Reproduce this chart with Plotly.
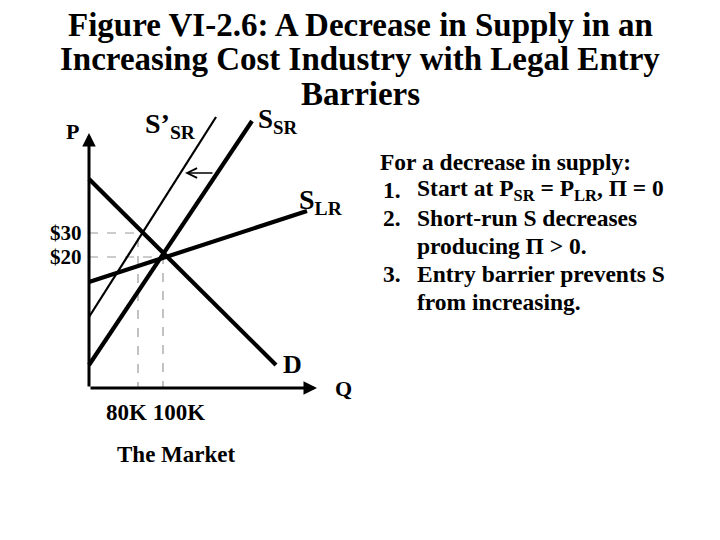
import plotly.graph_objects as go

# curve end points, chart units (origin = where the axes meet)
demand_q = [0, 187]
demand_p = [209, 23]
supply_sr_q = [0, 163]
supply_sr_p = [23, 267]
supply_sr_new_q = [0, 127]
supply_sr_new_p = [71, 271]
supply_lr_q = [0, 218]
supply_lr_p = [106, 177]

# equilibrium guides
q_marks = [49, 74]
p_marks = [155, 131]
p_labels = ["$30", "$20"]
q_label_text = "80K 100K"

shift_from = [125, 215]
shift_to = [96, 215]

title_lines = ["Figure VI-2.6: A Decrease in Supply in an",
               "Increasing Cost Industry with Legal Entry",
               "Barriers"]
notes_head = "For a decrease in supply:"
notes_nums = ["1.", "2.", "", "3.", ""]
notes_text = ["Start at P<sub>SR</sub> = P<sub>LR</sub>, \u03a0 = 0",
              "Short-run S decreases",
              "producing \u03a0 > 0.",
              "Entry barrier prevents S",
              "from increasing."]

FONT = "Liberation Serif"
fig = go.Figure()

# dashed guide lines
for q, p in zip(q_marks, p_marks):
    fig.add_trace(go.Scatter(x=[0, q, q], y=[p, p, 0], mode="lines",
                             line=dict(color="#9a9a9a", width=1.2, dash="dash"),
                             hoverinfo="skip"))

fig.add_trace(go.Scatter(x=supply_sr_new_q, y=supply_sr_new_p, mode="lines",
                         line=dict(color="black", width=2.2)))
for qs, ps in [(demand_q, demand_p), (supply_sr_q, supply_sr_p), (supply_lr_q, supply_lr_p)]:
    fig.add_trace(go.Scatter(x=qs, y=ps, mode="lines",
                             line=dict(color="black", width=4.2)))

# axes with arrows
fig.add_annotation(x=0, y=255, ax=0, ay=0, xref="x", yref="y", axref="x", ayref="y",
                   text="", showarrow=True, arrowhead=2, arrowsize=0.9, arrowwidth=3, arrowcolor="black")
fig.add_annotation(x=228, y=0, ax=0, ay=0, xref="x", yref="y", axref="x", ayref="y",
                   text="", showarrow=True, arrowhead=2, arrowsize=0.9, arrowwidth=3, arrowcolor="black")
# shift arrow
fig.add_annotation(x=shift_to[0], y=shift_to[1], ax=shift_from[0], ay=shift_from[1],
                   xref="x", yref="y", axref="x", ayref="y", text="", showarrow=True,
                   arrowhead=5, arrowsize=1.3, arrowwidth=1.5, arrowcolor="black")

def label(x, y, text, size=20, xanchor="center"):
    fig.add_annotation(x=x, y=y, xref="x", yref="y", text="<b>" + text + "</b>",
                       showarrow=False, xanchor=xanchor, yanchor="middle",
                       font=dict(family=FONT, size=size, color="black"))

for t, y in zip(title_lines, [363, 329, 294]):
    label(271, y, t, size=33)

label(-17, 257, "P", size=22)
label(254, 0, "Q", size=22)
label(203, 24, "D", size=26)
label(81, 263, "S\u2019<sub>SR</sub>", size=28)
label(189, 267, "S<sub>SR</sub>", size=27)
label(232, 187, "S<sub>LR</sub>", size=28)
for p, t in zip(p_marks, p_labels):
    label(-5, p, t, size=21, xanchor="right")
label(66, -24, q_label_text, size=23)
label(87, -66, "The Market", size=23)

label(289, 226, notes_head, size=23.5, xanchor="left")
for i, (n, t) in enumerate(zip(notes_nums, notes_text)):
    y = 198 - 28 * i
    if n:
        label(292, y, n, size=23.5, xanchor="left")
    label(326, y, t, size=23.5, xanchor="left")

# page body adds an 8px offset, so the ranges are shifted by 8 units
fig.update_layout(width=720, height=540, margin=dict(l=0, r=0, t=0, b=0),
                  plot_bgcolor="white", paper_bgcolor="white", showlegend=False,
                  xaxis=dict(range=[-81, 639], visible=False, fixedrange=True),
                  yaxis=dict(range=[-160, 380], visible=False, fixedrange=True))
fig.write_html("out.html")
